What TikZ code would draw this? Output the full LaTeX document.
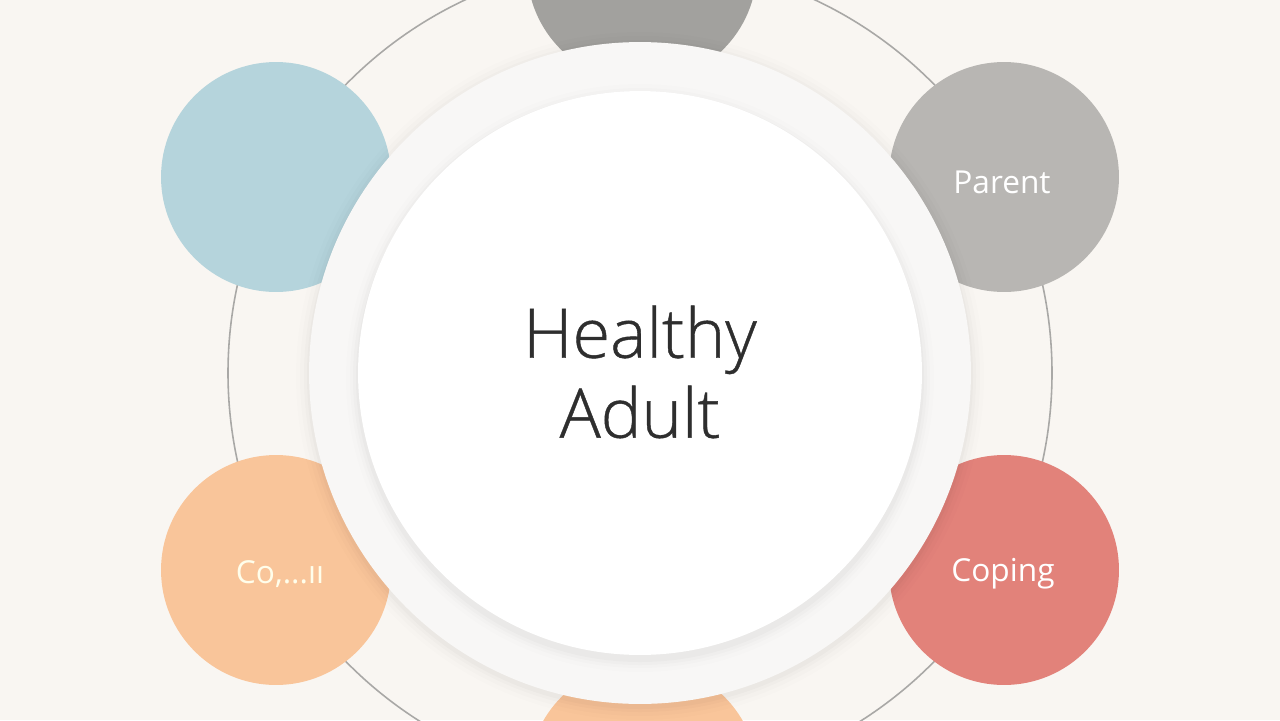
\documentclass[tikz,border=0pt]{standalone}
\usepackage{fontspec}
\setmainfont{Open Sans}
\newfontfamily\centerfont[FakeBold=0.6]{Open Sans Light}
\definecolor{bg}{HTML}{F9F6F2}
\definecolor{ringc}{HTML}{A9A8A6}
\definecolor{sblue}{HTML}{B5D4DC}
\definecolor{sgray}{HTML}{B8B6B3}
\definecolor{sgraydark}{HTML}{A2A19E}
\definecolor{sorange}{HTML}{F9C59A}
\definecolor{sred}{HTML}{E2827A}
\definecolor{halo}{HTML}{F8F7F6}
\definecolor{txt}{HTML}{2E2E2E}
\tikzset{
  sat/.style={circle, fill=#1, minimum size=4.6cm, inner sep=0pt},
  satlabel/.style={text=white, font=\fontsize{18}{22}\selectfont},
}
\begin{document}
\begin{tikzpicture}[x=0.02cm,y=-0.02cm]
\fill[bg] (0,0) rectangle (1280,720);
\useasboundingbox (0,0) rectangle (1280,720);
\coordinate (c) at (640,373);
% orbit ring
\draw[ringc, line width=0.9pt] (c) circle[radius=412];
% satellites
\node[sat=sgraydark] (top) at (642,-32) {};
\node[sat=sblue] (tl) at (276,177) {};
\node[sat=sgray] (tr) at (1004,177) {};
\node[sat=sorange] (bl) at (276,570) {};
\node[sat=sred] (br) at (1004,570) {};
\node[sat=sorange] (bot) at (643,778) {};
\node[satlabel] (trlabel) at (1002,182) {Parent};
\node[satlabel] (brlabel) at (1003,574) {Coping};
\node[satlabel, text=white!92!yellow] (bllabel) at (280,574) {Co,...ıı};
% halo shadow
\foreach \r/\o in {344/0.008,340/0.012,336/0.016,333/0.02}
  \fill[black, opacity=\o] (640,376) circle[radius=\r];
\node[circle, fill=halo, minimum size=13.24cm, inner sep=0pt] (halo) at (c) {};
% inner circle shadow
\foreach \r/\o in {294/0.008,290/0.012,287/0.016,284/0.018}
  \fill[black, opacity=\o] (640,378) circle[radius=\r];
\node[circle, fill=white, minimum size=11.28cm, inner sep=0pt] (inner) at (c) {};
\node[text=txt, align=center, font=\centerfont\fontsize{39}{45.5}\selectfont] (label) at (640,372) {Healthy\\Adult};
\end{tikzpicture}
\end{document}
